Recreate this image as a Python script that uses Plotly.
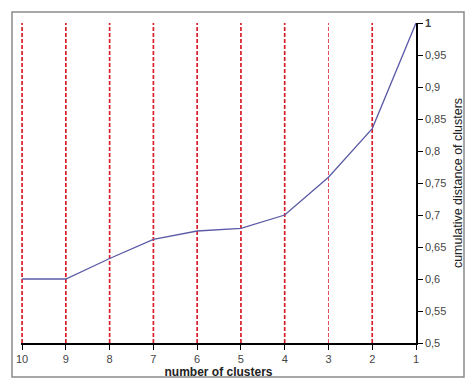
import plotly.graph_objects as go

clusters = [10, 9, 8, 7, 6, 5, 4, 3, 2, 1]
distance = [0.600, 0.600, 0.632, 0.662, 0.675, 0.679, 0.700, 0.759, 0.835, 1.000]
y_tick_vals = [0.5, 0.55, 0.6, 0.65, 0.7, 0.75, 0.8, 0.85, 0.9, 0.95, 1.0]
y_tick_text = ["0,5", "0,55", "0,6", "0,65", "0,7", "0,75", "0,8", "0,85", "0,9", "0,95", "<b>1</b>"]
x_tick_vals = clusters
x_tick_text = [str(c) for c in clusters]
y_min, y_max = 0.5, 1.0

FONT = "Liberation Sans, Arial, sans-serif"

fig = go.Figure()
# vertical red dashed guide lines at every cluster count (except the axis at 1)
for c in clusters[:-1]:
    fig.add_trace(go.Scatter(
        x=[c, c], y=[y_min, y_max], mode="lines",
        line=dict(color="#d91f2c", width=1.0 if c == 3 else 1.7, dash="4px,2px"),
        opacity=0.8 if c == 3 else 1.0,
        showlegend=False, hoverinfo="skip", cliponaxis=False,
    ))
fig.add_trace(go.Scatter(
    x=clusters, y=distance, mode="lines",
    line=dict(color="#5a5aa6", width=1.3),
    showlegend=False, hoverinfo="skip",
))

# page body has an 8px margin: figure is shifted by 8px
W, H = 466, 382
L, T, R, B = 13, 15, 58, 47
pw, ph = W - L - R, H - T - B

fig.update_layout(
    width=W, height=H,
    margin=dict(l=L, r=R, t=T, b=B, autoexpand=False),
    paper_bgcolor="white", plot_bgcolor="white",
    font=dict(family=FONT, size=11, color="#333333"),
    xaxis=dict(
        range=[10.025, 1], tickvals=x_tick_vals, ticktext=x_tick_text,
        showgrid=False,
        showline=True, linecolor="black", linewidth=1.5,
        ticks="outside", ticklen=5, tickcolor="black", tickwidth=1.2,
        zeroline=False, tickfont=dict(size=11, color="#444444"),
        title=dict(text="<b>number of clusters</b>", font=dict(size=12, color="#222222"), standoff=2),
    ),
    yaxis=dict(
        side="right", range=[y_min, y_max], tickvals=y_tick_vals, ticktext=y_tick_text,
        showgrid=False, zeroline=False,
        showline=True, linecolor="black", linewidth=1.5,
        ticks="outside", ticklen=5, tickcolor="black", tickwidth=1.2,
        tickfont=dict(size=11, color="#444444"),
        title=dict(text="cumulative distance of clusters", font=dict(size=12.5, color="#222222"), standoff=8),
    ),
    shapes=[dict(
        type="rect", xref="paper", yref="paper",
        x0=(4 - L) / pw, x1=(456 - L) / pw,
        y0=(H - B - 369) / ph, y1=(H - B - 4) / ph,
        line=dict(color="#8a8a8a", width=1.5), fillcolor="rgba(0,0,0,0)",
        layer="below",
    )],
)

fig.write_html("out.html")
